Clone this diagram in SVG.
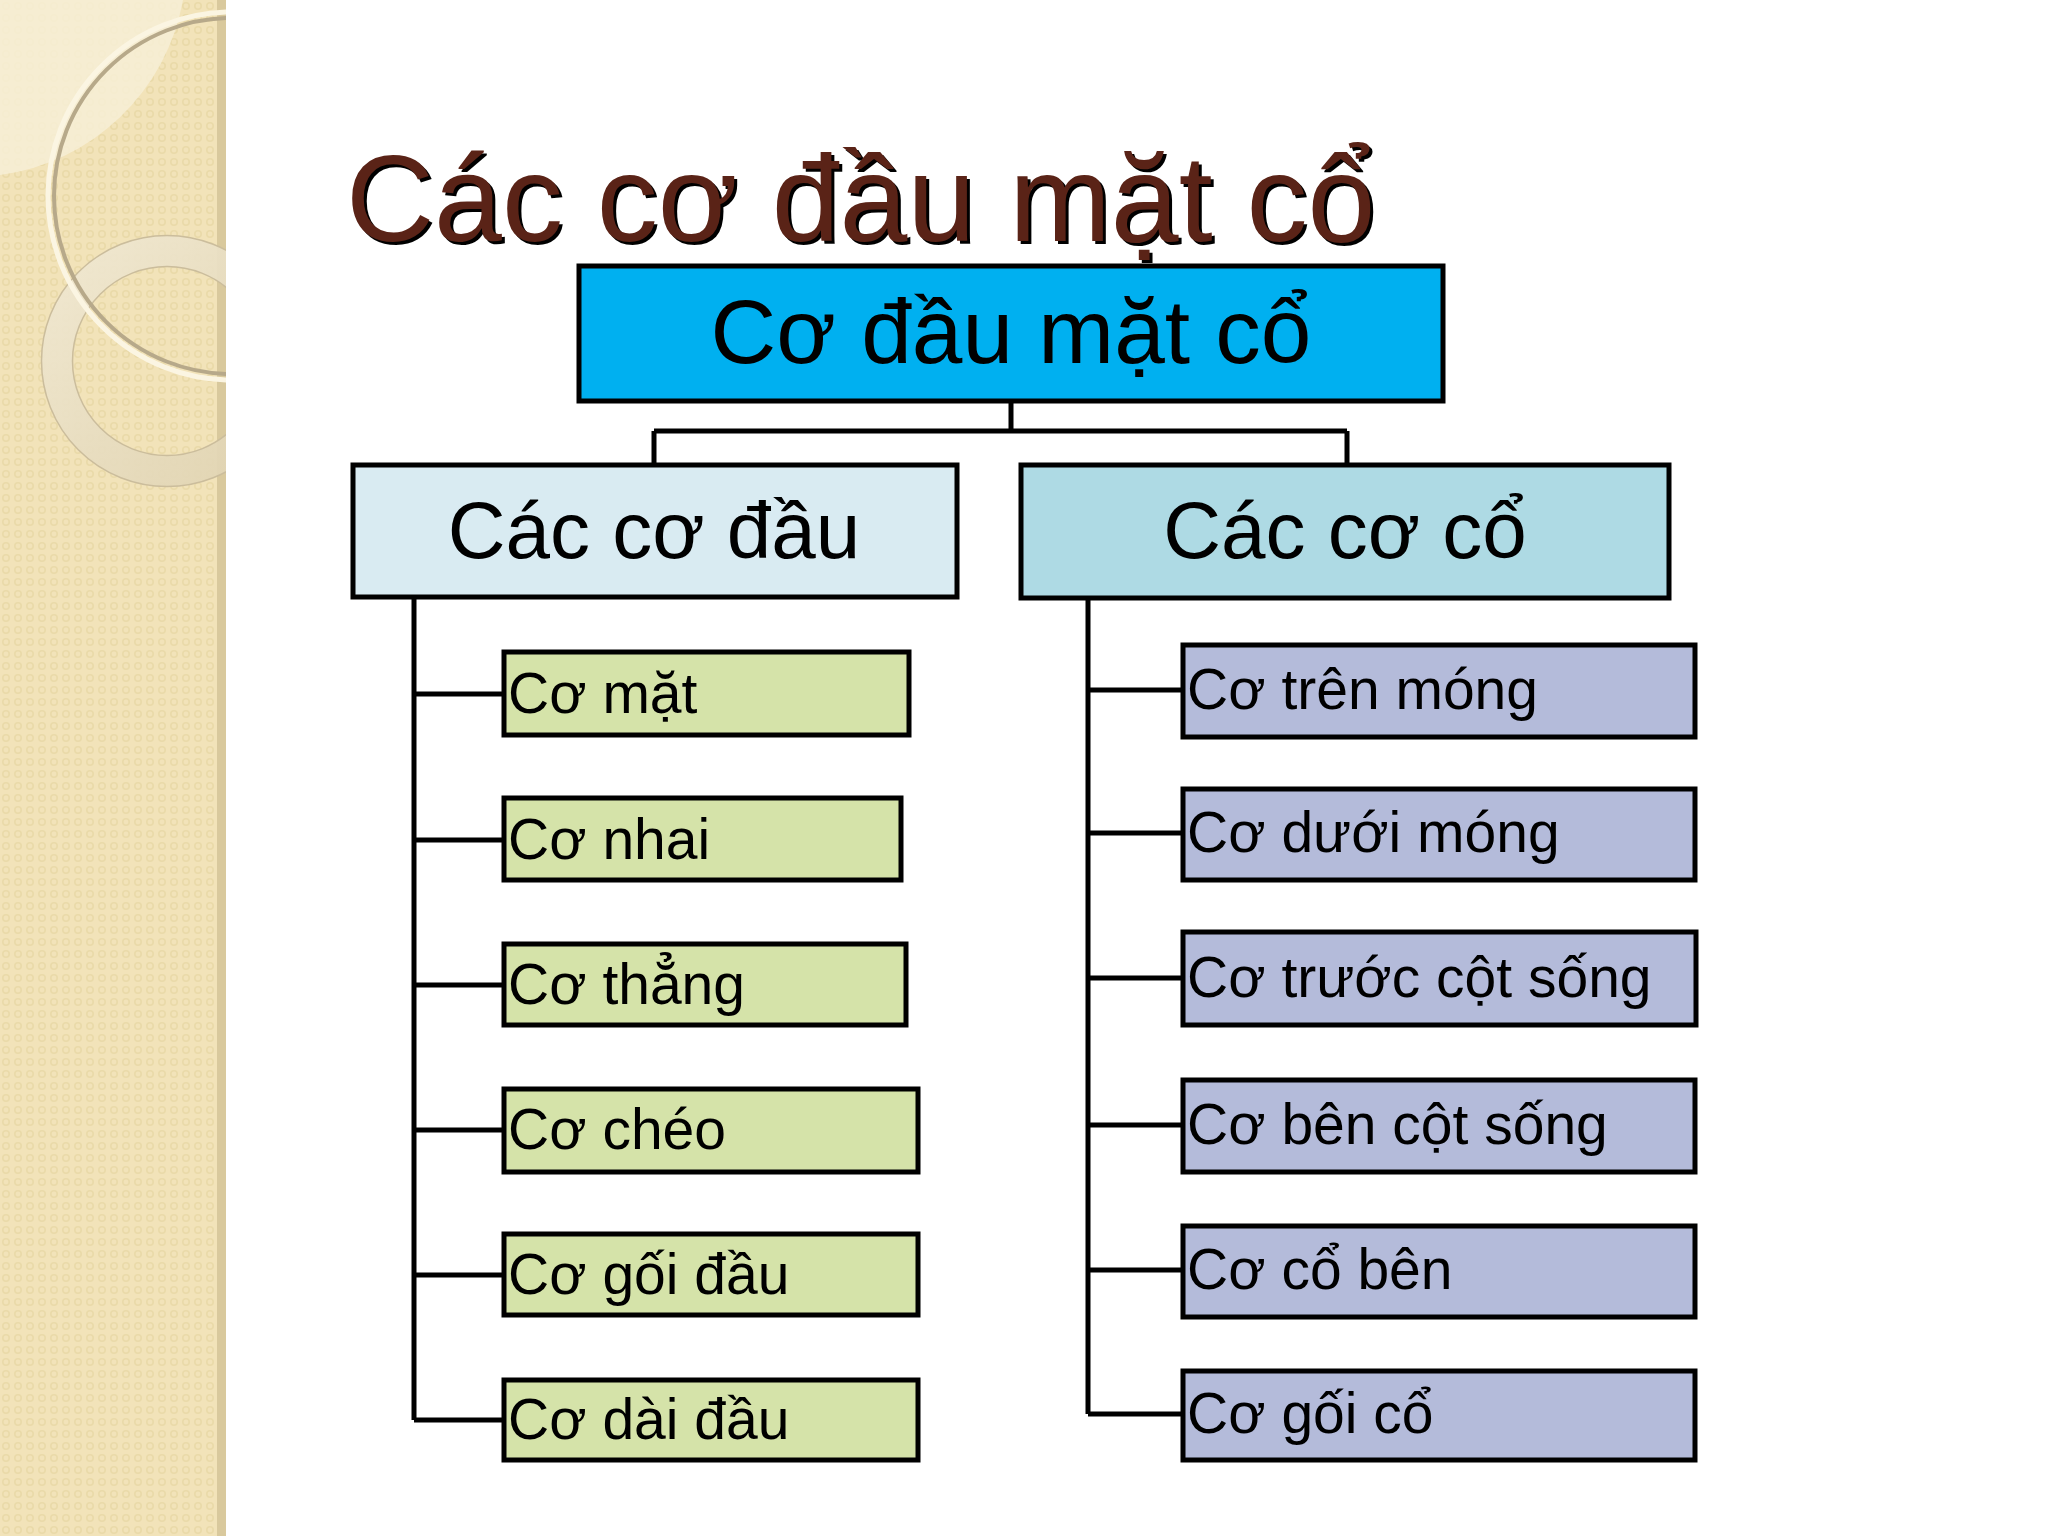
<svg xmlns="http://www.w3.org/2000/svg" width="2048" height="1536" viewBox="0 0 2048 1536">
<defs>
<pattern id="dots" width="12" height="12" patternUnits="userSpaceOnUse">
<rect width="12" height="12" fill="#f2e3b9"/>
<circle cx="6" cy="6" r="3.2" fill="none" stroke="#eadaa9" stroke-width="1.6"/>
</pattern>
<clipPath id="strip"><rect x="0" y="0" width="226" height="1536"/></clipPath>
<linearGradient id="ringg" x1="0" y1="0" x2="1" y2="1">
<stop offset="0" stop-color="#f0e8d2"/>
<stop offset="1" stop-color="#e0d3b1"/>
</linearGradient>
</defs>
<style>
.t{font-family:"Liberation Sans",Arial,sans-serif;fill:#000}
.box{stroke:#000;stroke-width:5}
.top{fill:#00b0f0}
.l1{fill:#d9ebf2}
.r1{fill:#aedae4}
.g{fill:#d5e3a9}
.p{fill:#b4bbda}
.c{fill:none;stroke:#000;stroke-width:5}
.lab{font-size:57px}
</style>
<rect width="2048" height="1536" fill="#ffffff"/>
<g id="background">
<rect x="0" y="0" width="226" height="1536" fill="url(#dots)"/>
<rect x="217" y="0" width="9" height="1536" fill="#d9c99d"/>
<g clip-path="url(#strip)">
<path d="M0,0 L183,0 A215 215 0 0 1 0,175 Z" fill="#f7eed6" opacity="0.85"/>
<circle cx="167" cy="361" r="110" fill="none" stroke="url(#ringg)" stroke-width="31" opacity="0.92"/>
<circle cx="167" cy="361" r="125.5" fill="none" stroke="#cbbd9c" stroke-width="1.5"/>
<circle cx="167" cy="361" r="94.5" fill="none" stroke="#cbbd9c" stroke-width="1.5"/>
<circle cx="232" cy="196" r="184" fill="none" stroke="#fbf5e2" stroke-width="5"/>
<circle cx="232" cy="196" r="178" fill="none" stroke="#b7a98a" stroke-width="4"/>
</g>
</g>
<g id="title">
<text class="t" x="349" y="244" font-size="122" style="fill:#000">Các cơ đầu mặt cổ</text>
<text class="t" x="346" y="241" font-size="122" style="fill:#5a2317">Các cơ đầu mặt cổ</text>
</g>
<g id="connectors">
<path class="c" d="M1011,401 V431 M654,431 H1347 M654,431 V465 M1347,431 V465"/>
<path class="c" d="M414,597 V1420 M414,694 H504 M414,840 H504 M414,985 H504 M414,1130 H504 M414,1275 H504 M414,1420 H504"/>
<path class="c" d="M1088,598 V1414 M1088,690 H1183 M1088,833 H1183 M1088,978 H1183 M1088,1125 H1183 M1088,1270 H1183 M1088,1414 H1183"/>
</g>
<g id="n-root">
<rect class="box top" x="579" y="266" width="864" height="135"/>
<text class="t" x="1011" y="363" font-size="91" text-anchor="middle">Cơ đầu mặt cổ</text>
</g>
<g id="n-head">
<rect class="box l1" x="353" y="465" width="604" height="132"/>
<text class="t" x="654" y="558" font-size="80" text-anchor="middle">Các cơ đầu</text>
</g>
<g id="n-neck">
<rect class="box r1" x="1021" y="465" width="648" height="133"/>
<text class="t" x="1345" y="558" font-size="80" text-anchor="middle">Các cơ cổ</text>
</g>
<g id="n-h1"><rect class="box g" x="504" y="652" width="405" height="83"/><text class="t lab" x="508" y="713">Cơ mặt</text></g>
<g id="n-h2"><rect class="box g" x="504" y="798" width="397" height="82"/><text class="t lab" x="508" y="859">Cơ nhai</text></g>
<g id="n-h3"><rect class="box g" x="504" y="944" width="402" height="81"/><text class="t lab" x="508" y="1004">Cơ thẳng</text></g>
<g id="n-h4"><rect class="box g" x="504" y="1089" width="414" height="83"/><text class="t lab" x="508" y="1149">Cơ chéo</text></g>
<g id="n-h5"><rect class="box g" x="504" y="1234" width="414" height="81"/><text class="t lab" x="508" y="1294">Cơ gối đầu</text></g>
<g id="n-h6"><rect class="box g" x="504" y="1380" width="414" height="80"/><text class="t lab" x="508" y="1439">Cơ dài đầu</text></g>
<g id="n-n1"><rect class="box p" x="1183" y="645" width="512" height="92"/><text class="t lab" x="1187" y="709">Cơ trên móng</text></g>
<g id="n-n2"><rect class="box p" x="1183" y="789" width="512" height="91"/><text class="t lab" x="1187" y="852">Cơ dưới móng</text></g>
<g id="n-n3"><rect class="box p" x="1183" y="932" width="513" height="93"/><text class="t lab" x="1187" y="997">Cơ trước cột sống</text></g>
<g id="n-n4"><rect class="box p" x="1183" y="1080" width="512" height="92"/><text class="t lab" x="1187" y="1144">Cơ bên cột sống</text></g>
<g id="n-n5"><rect class="box p" x="1183" y="1226" width="512" height="91"/><text class="t lab" x="1187" y="1289">Cơ cổ bên</text></g>
<g id="n-n6"><rect class="box p" x="1183" y="1371" width="512" height="89"/><text class="t lab" x="1187" y="1433">Cơ gối cổ</text></g>
</svg>
